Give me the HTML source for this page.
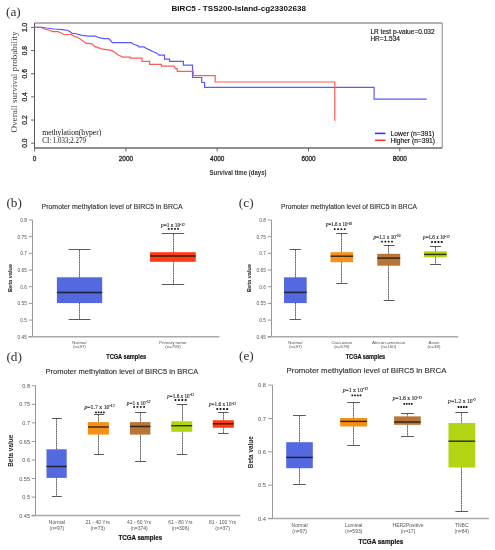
<!DOCTYPE html>
<html><head><meta charset="utf-8"><style>
html,body{margin:0;padding:0;background:#fff;}
#c{position:relative;width:495px;height:550px;overflow:hidden;background:#fff;}
svg{position:absolute;left:0;top:0;filter:blur(0.3px);}
</style></head><body><div id="c">
<svg width="495" height="550" viewBox="0 0 495 550">
<text x="6" y="16.2" font-family='"Liberation Serif", serif' font-size="13.3" fill="#333" text-anchor="start" font-weight="normal" style="" >(a)</text>
<text x="171.5" y="11.3" font-family='"Liberation Sans", sans-serif' font-size="7.8" fill="#111" text-anchor="start" font-weight="bold" textLength="134.5" lengthAdjust="spacingAndGlyphs" style="" >BIRC5 - TSS200-Island-cg23302638</text>
<line x1="34.5" y1="23" x2="442.2" y2="23" stroke="#9a9a9a" stroke-width="1.4" />
<line x1="442.2" y1="23" x2="442.2" y2="148" stroke="#9a9a9a" stroke-width="1.2" />
<line x1="34.5" y1="148" x2="442.2" y2="148" stroke="#6a6a6a" stroke-width="1.3" />
<line x1="34.5" y1="23" x2="34.5" y2="148" stroke="#555" stroke-width="1.0" />
<line x1="31" y1="143.2" x2="34.5" y2="143.2" stroke="#555" stroke-width="0.9" />
<text x="0" y="0" transform="translate(27.1,143.2) rotate(-90)" font-family='"Liberation Sans", sans-serif' font-size="6.7" font-weight="normal" fill="#2a2a2a" stroke="#2a2a2a" stroke-width="0.3" text-anchor="middle">0.0</text>
<line x1="31" y1="120.04999999999998" x2="34.5" y2="120.04999999999998" stroke="#555" stroke-width="0.9" />
<text x="0" y="0" transform="translate(27.1,120.04999999999998) rotate(-90)" font-family='"Liberation Sans", sans-serif' font-size="6.7" font-weight="normal" fill="#2a2a2a" stroke="#2a2a2a" stroke-width="0.3" text-anchor="middle">0.2</text>
<line x1="31" y1="96.89999999999999" x2="34.5" y2="96.89999999999999" stroke="#555" stroke-width="0.9" />
<text x="0" y="0" transform="translate(27.1,96.89999999999999) rotate(-90)" font-family='"Liberation Sans", sans-serif' font-size="6.7" font-weight="normal" fill="#2a2a2a" stroke="#2a2a2a" stroke-width="0.3" text-anchor="middle">0.4</text>
<line x1="31" y1="73.75" x2="34.5" y2="73.75" stroke="#555" stroke-width="0.9" />
<text x="0" y="0" transform="translate(27.1,73.75) rotate(-90)" font-family='"Liberation Sans", sans-serif' font-size="6.7" font-weight="normal" fill="#2a2a2a" stroke="#2a2a2a" stroke-width="0.3" text-anchor="middle">0.6</text>
<line x1="31" y1="50.599999999999994" x2="34.5" y2="50.599999999999994" stroke="#555" stroke-width="0.9" />
<text x="0" y="0" transform="translate(27.1,50.599999999999994) rotate(-90)" font-family='"Liberation Sans", sans-serif' font-size="6.7" font-weight="normal" fill="#2a2a2a" stroke="#2a2a2a" stroke-width="0.3" text-anchor="middle">0.8</text>
<line x1="31" y1="27.44999999999999" x2="34.5" y2="27.44999999999999" stroke="#555" stroke-width="0.9" />
<text x="0" y="0" transform="translate(27.1,27.44999999999999) rotate(-90)" font-family='"Liberation Sans", sans-serif' font-size="6.7" font-weight="normal" fill="#2a2a2a" stroke="#2a2a2a" stroke-width="0.3" text-anchor="middle">1.0</text>
<line x1="34.6" y1="148" x2="34.6" y2="151.4" stroke="#555" stroke-width="0.9" />
<text x="34.6" y="160.8" font-family='"Liberation Sans", sans-serif' font-size="6.4" fill="#2a2a2a" text-anchor="middle" font-weight="normal" style="" stroke="#2a2a2a" stroke-width="0.3">0</text>
<line x1="125.9" y1="148" x2="125.9" y2="151.4" stroke="#555" stroke-width="0.9" />
<text x="125.9" y="160.8" font-family='"Liberation Sans", sans-serif' font-size="6.4" fill="#2a2a2a" text-anchor="middle" font-weight="normal" style="" stroke="#2a2a2a" stroke-width="0.3">2000</text>
<line x1="217.2" y1="148" x2="217.2" y2="151.4" stroke="#555" stroke-width="0.9" />
<text x="217.2" y="160.8" font-family='"Liberation Sans", sans-serif' font-size="6.4" fill="#2a2a2a" text-anchor="middle" font-weight="normal" style="" stroke="#2a2a2a" stroke-width="0.3">4000</text>
<line x1="308.5" y1="148" x2="308.5" y2="151.4" stroke="#555" stroke-width="0.9" />
<text x="308.5" y="160.8" font-family='"Liberation Sans", sans-serif' font-size="6.4" fill="#2a2a2a" text-anchor="middle" font-weight="normal" style="" stroke="#2a2a2a" stroke-width="0.3">6000</text>
<line x1="399.8" y1="148" x2="399.8" y2="151.4" stroke="#555" stroke-width="0.9" />
<text x="399.8" y="160.8" font-family='"Liberation Sans", sans-serif' font-size="6.4" fill="#2a2a2a" text-anchor="middle" font-weight="normal" style="" stroke="#2a2a2a" stroke-width="0.3">8000</text>
<text x="238" y="174.5" font-family='"Liberation Sans", sans-serif' font-size="6.3" fill="#333" text-anchor="middle" font-weight="bold" textLength="57" lengthAdjust="spacingAndGlyphs" style="" >Survival time (days)</text>
<text x="0" y="0" transform="translate(16.9,82) rotate(-90)" font-family='"Liberation Serif", serif' font-size="9.2" fill="#444" text-anchor="middle" textLength="101" lengthAdjust="spacingAndGlyphs">Overall survival probability</text>
<text x="42.3" y="134.5" font-family='"Liberation Serif", serif' font-size="7.6" fill="#111" text-anchor="start" font-weight="normal" textLength="59" lengthAdjust="spacingAndGlyphs" style="" >methylation(hyper)</text>
<text x="42.3" y="142.6" font-family='"Liberation Serif", serif' font-size="7.6" fill="#111" text-anchor="start" font-weight="normal" textLength="43.6" lengthAdjust="spacingAndGlyphs" style="" >CI: 1.033;2.279</text>
<text x="370.4" y="34.4" font-family='"Liberation Sans", sans-serif' font-size="6.5" fill="#222" text-anchor="start" font-weight="normal" textLength="64.2" lengthAdjust="spacingAndGlyphs" style="" stroke="#222" stroke-width="0.18">LR test p-value=0.032</text>
<text x="370.4" y="40.8" font-family='"Liberation Sans", sans-serif' font-size="6.5" fill="#222" text-anchor="start" font-weight="normal" textLength="29.6" lengthAdjust="spacingAndGlyphs" style="" stroke="#222" stroke-width="0.18">HR=1.534</text>
<line x1="375" y1="133.4" x2="385.5" y2="133.4" stroke="#3333ff" stroke-width="1.6" />
<line x1="375" y1="140.3" x2="385.5" y2="140.3" stroke="#ff3333" stroke-width="1.6" />
<text x="390.5" y="136.0" font-family='"Liberation Sans", sans-serif' font-size="6.6" fill="#222" text-anchor="start" font-weight="normal" textLength="43.8" lengthAdjust="spacingAndGlyphs" style="" stroke="#222" stroke-width="0.18">Lower (n=391)</text>
<text x="390.5" y="142.9" font-family='"Liberation Sans", sans-serif' font-size="6.6" fill="#222" text-anchor="start" font-weight="normal" textLength="44.5" lengthAdjust="spacingAndGlyphs" style="" stroke="#222" stroke-width="0.18">Higher (n=391)</text>
<polyline points="34.5,27.4 42.1,27.4 46.1,28 54.2,29 62.3,29.7 68,30.5 70.4,32.1 72,33.3 74.8,33.5 82.1,35.3 88.2,36.2 95.5,36.2 99.1,37.7 103.9,38.7 108.8,38.7 110.5,40.5 112.4,42.6 131.1,42.7 133.9,44.3 137.9,45.7 138.7,46.9 144,46.9 147.2,48.9 150,50.1 153.3,51.7 157.3,53.4 158.9,55.2 164.5,55.2 164.5,59.2 169.6,59.2 169.6,61.3 183.4,61.3 183.4,65.2 192.5,65.2 192.5,77.5 201.7,77.5 201.7,82.5 204.6,82.5 204.6,87.4 374.1,87.4 374.1,99.1 426.8,99.1" fill="none" stroke="#5a5aff" stroke-width="1.2" stroke-linejoin="miter"/>
<polyline points="34.5,27.4 41.3,27.4 44.5,29 50.2,30.5 52.6,31.7 58.2,31.7 61.5,33.3 63.9,34.5 71.2,34.5 74,36.1 78.5,37.7 85.8,43.2 91.8,43.8 94.8,46.4 101.5,48.8 111.2,50.4 113.6,51.6 118.5,55.3 123.3,57.1 130.3,57.2 130.3,58.2 142,58.2 142,61.4 149.6,61.4 149.6,64.3 161.5,64.3 161.5,66.2 174.1,66.2 175.5,68.7 177.2,68.7 177.2,71.4 193.3,71.4 193.3,75.6 215.2,75.6 215.2,82.0 334.8,82.0 334.8,120.8" fill="none" stroke="#ff5a5a" stroke-width="1.2" stroke-linejoin="miter"/>
<text x="6.4" y="207.3" font-family='"Liberation Serif", serif' font-size="13.3" fill="#333" text-anchor="start" font-weight="normal" style="" >(b)</text>
<text x="41.5" y="209" font-family='"Liberation Sans", sans-serif' font-size="6.6" fill="#333" text-anchor="start" font-weight="normal" textLength="141.2" lengthAdjust="spacingAndGlyphs" style="" stroke="#333" stroke-width="0.12">Promoter methylation level of BIRC5 in BRCA</text>
<line x1="32.5" y1="220" x2="32.5" y2="336.8" stroke="#999" stroke-width="1.0" />
<line x1="28.5" y1="336.8" x2="219.4" y2="336.8" stroke="#aaa" stroke-width="1.5" />
<line x1="28.7" y1="220.0" x2="32.5" y2="220.0" stroke="#999" stroke-width="1.0" />
<text x="27.0" y="221.872" font-family='"Liberation Sans", sans-serif' font-size="5.2" fill="#555" text-anchor="end" font-weight="normal" textLength="6.72" lengthAdjust="spacingAndGlyphs" style="" >0.8</text>
<line x1="28.7" y1="236.68" x2="32.5" y2="236.68" stroke="#999" stroke-width="1.0" />
<text x="27.0" y="238.55200000000002" font-family='"Liberation Sans", sans-serif' font-size="5.2" fill="#555" text-anchor="end" font-weight="normal" textLength="9.41" lengthAdjust="spacingAndGlyphs" style="" >0.75</text>
<line x1="28.7" y1="253.36" x2="32.5" y2="253.36" stroke="#999" stroke-width="1.0" />
<text x="27.0" y="255.23200000000003" font-family='"Liberation Sans", sans-serif' font-size="5.2" fill="#555" text-anchor="end" font-weight="normal" textLength="6.72" lengthAdjust="spacingAndGlyphs" style="" >0.7</text>
<line x1="28.7" y1="270.04" x2="32.5" y2="270.04" stroke="#999" stroke-width="1.0" />
<text x="27.0" y="271.91200000000003" font-family='"Liberation Sans", sans-serif' font-size="5.2" fill="#555" text-anchor="end" font-weight="normal" textLength="9.41" lengthAdjust="spacingAndGlyphs" style="" >0.65</text>
<line x1="28.7" y1="286.72" x2="32.5" y2="286.72" stroke="#999" stroke-width="1.0" />
<text x="27.0" y="288.59200000000004" font-family='"Liberation Sans", sans-serif' font-size="5.2" fill="#555" text-anchor="end" font-weight="normal" textLength="6.72" lengthAdjust="spacingAndGlyphs" style="" >0.6</text>
<line x1="28.7" y1="303.4" x2="32.5" y2="303.4" stroke="#999" stroke-width="1.0" />
<text x="27.0" y="305.272" font-family='"Liberation Sans", sans-serif' font-size="5.2" fill="#555" text-anchor="end" font-weight="normal" textLength="9.41" lengthAdjust="spacingAndGlyphs" style="" >0.55</text>
<line x1="28.7" y1="320.08000000000004" x2="32.5" y2="320.08000000000004" stroke="#999" stroke-width="1.0" />
<text x="27.0" y="321.95200000000006" font-family='"Liberation Sans", sans-serif' font-size="5.2" fill="#555" text-anchor="end" font-weight="normal" textLength="6.72" lengthAdjust="spacingAndGlyphs" style="" >0.5</text>
<line x1="28.7" y1="336.76" x2="32.5" y2="336.76" stroke="#999" stroke-width="1.0" />
<text x="27.0" y="338.632" font-family='"Liberation Sans", sans-serif' font-size="5.2" fill="#555" text-anchor="end" font-weight="normal" textLength="9.41" lengthAdjust="spacingAndGlyphs" style="" >0.45</text>
<text x="0" y="0" transform="translate(11.516,278) rotate(-90)" font-family='"Liberation Sans", sans-serif' font-size="5.6" font-weight="bold" fill="#222" text-anchor="middle">Beta value</text>
<line x1="79.5" y1="250" x2="79.5" y2="278" stroke="#aaa" stroke-width="1.0" />
<line x1="79.5" y1="303" x2="79.5" y2="319" stroke="#aaa" stroke-width="1.0" />
<line x1="79.5" y1="250" x2="79.5" y2="278" stroke="#555" stroke-width="1.0" stroke-dasharray="1,1.4"/>
<line x1="79.5" y1="303" x2="79.5" y2="319" stroke="#555" stroke-width="1.0" stroke-dasharray="1,1.4"/>
<line x1="68.6" y1="249.5" x2="90.4" y2="249.5" stroke="#5a5a5a" stroke-width="1.0" />
<line x1="68.6" y1="319.5" x2="90.4" y2="319.5" stroke="#5a5a5a" stroke-width="1.0" />
<rect x="56.9" y="277.3" width="45.300000000000004" height="25.80000000000001" fill="#5468e0"/>
<line x1="56.9" y1="292.4" x2="102.2" y2="292.4" stroke="#111" stroke-width="1.45" stroke-opacity="0.82"/>
<line x1="173.5" y1="234" x2="173.5" y2="253" stroke="#aaa" stroke-width="1.0" />
<line x1="173.5" y1="261" x2="173.5" y2="284" stroke="#aaa" stroke-width="1.0" />
<line x1="173.5" y1="234" x2="173.5" y2="253" stroke="#555" stroke-width="1.0" stroke-dasharray="1,1.4"/>
<line x1="173.5" y1="261" x2="173.5" y2="284" stroke="#555" stroke-width="1.0" stroke-dasharray="1,1.4"/>
<line x1="161.8" y1="233.5" x2="184.2" y2="233.5" stroke="#5a5a5a" stroke-width="1.0" />
<line x1="161.8" y1="284.5" x2="184.2" y2="284.5" stroke="#5a5a5a" stroke-width="1.0" />
<rect x="150" y="252.2" width="45.80000000000001" height="9.600000000000023" fill="#ff3c14"/>
<line x1="150" y1="256" x2="195.8" y2="256" stroke="#111" stroke-width="1.45" stroke-opacity="0.82"/>
<text x="161.1" y="226.9" font-family='"Liberation Serif", serif' font-size="5.4" fill="#222" stroke="#222" stroke-width="0.12" textLength="23.8" lengthAdjust="spacingAndGlyphs"><tspan font-style="italic">p</tspan>=1 x 10<tspan font-size="68%" dy="-0.33em">-12</tspan></text>
<rect x="167.80" y="228.00" width="1.8" height="1.8" rx="0.5" fill="#1a1a1a"/>
<rect x="170.90" y="228.00" width="1.8" height="1.8" rx="0.5" fill="#1a1a1a"/>
<rect x="174.00" y="228.00" width="1.8" height="1.8" rx="0.5" fill="#1a1a1a"/>
<rect x="177.10" y="228.00" width="1.8" height="1.8" rx="0.5" fill="#1a1a1a"/>
<text x="79.4" y="344.184" font-family='"Liberation Sans", sans-serif' font-size="4.4" fill="#555" text-anchor="middle" font-weight="normal" style="" >Normal</text>
<text x="79.4" y="348.284" font-family='"Liberation Sans", sans-serif' font-size="4.4" fill="#555" text-anchor="middle" font-weight="normal" style="" >(n=97)</text>
<text x="173" y="344.184" font-family='"Liberation Sans", sans-serif' font-size="4.4" fill="#555" text-anchor="middle" font-weight="normal" style="" >Primary tumor</text>
<text x="173" y="348.284" font-family='"Liberation Sans", sans-serif' font-size="4.4" fill="#555" text-anchor="middle" font-weight="normal" style="" >(n=793)</text>
<text x="106.2" y="358.96799999999996" font-family='"Liberation Sans", sans-serif' font-size="6.3" fill="#111" text-anchor="start" font-weight="bold" textLength="39.999999999999986" lengthAdjust="spacingAndGlyphs" style="" stroke="#111" stroke-width="0.15">TCGA samples</text>
<text x="238.8" y="207.3" font-family='"Liberation Serif", serif' font-size="13.3" fill="#333" text-anchor="start" font-weight="normal" style="" >(c)</text>
<text x="281" y="209" font-family='"Liberation Sans", sans-serif' font-size="6.4" fill="#333" text-anchor="start" font-weight="normal" textLength="136" lengthAdjust="spacingAndGlyphs" style="" stroke="#333" stroke-width="0.12">Promoter methylation level of BIRC5 in BRCA</text>
<line x1="271.5" y1="220" x2="271.5" y2="336.7" stroke="#999" stroke-width="1.0" />
<line x1="267.5" y1="336.7" x2="458.2" y2="336.7" stroke="#aaa" stroke-width="1.5" />
<line x1="267.7" y1="220.0" x2="271.5" y2="220.0" stroke="#999" stroke-width="1.0" />
<text x="266.0" y="221.872" font-family='"Liberation Sans", sans-serif' font-size="5.2" fill="#555" text-anchor="end" font-weight="normal" textLength="6.72" lengthAdjust="spacingAndGlyphs" style="" >0.8</text>
<line x1="267.7" y1="236.68" x2="271.5" y2="236.68" stroke="#999" stroke-width="1.0" />
<text x="266.0" y="238.55200000000002" font-family='"Liberation Sans", sans-serif' font-size="5.2" fill="#555" text-anchor="end" font-weight="normal" textLength="9.41" lengthAdjust="spacingAndGlyphs" style="" >0.75</text>
<line x1="267.7" y1="253.36" x2="271.5" y2="253.36" stroke="#999" stroke-width="1.0" />
<text x="266.0" y="255.23200000000003" font-family='"Liberation Sans", sans-serif' font-size="5.2" fill="#555" text-anchor="end" font-weight="normal" textLength="6.72" lengthAdjust="spacingAndGlyphs" style="" >0.7</text>
<line x1="267.7" y1="270.04" x2="271.5" y2="270.04" stroke="#999" stroke-width="1.0" />
<text x="266.0" y="271.91200000000003" font-family='"Liberation Sans", sans-serif' font-size="5.2" fill="#555" text-anchor="end" font-weight="normal" textLength="9.41" lengthAdjust="spacingAndGlyphs" style="" >0.65</text>
<line x1="267.7" y1="286.72" x2="271.5" y2="286.72" stroke="#999" stroke-width="1.0" />
<text x="266.0" y="288.59200000000004" font-family='"Liberation Sans", sans-serif' font-size="5.2" fill="#555" text-anchor="end" font-weight="normal" textLength="6.72" lengthAdjust="spacingAndGlyphs" style="" >0.6</text>
<line x1="267.7" y1="303.4" x2="271.5" y2="303.4" stroke="#999" stroke-width="1.0" />
<text x="266.0" y="305.272" font-family='"Liberation Sans", sans-serif' font-size="5.2" fill="#555" text-anchor="end" font-weight="normal" textLength="9.41" lengthAdjust="spacingAndGlyphs" style="" >0.55</text>
<line x1="267.7" y1="320.08000000000004" x2="271.5" y2="320.08000000000004" stroke="#999" stroke-width="1.0" />
<text x="266.0" y="321.95200000000006" font-family='"Liberation Sans", sans-serif' font-size="5.2" fill="#555" text-anchor="end" font-weight="normal" textLength="6.72" lengthAdjust="spacingAndGlyphs" style="" >0.5</text>
<line x1="267.7" y1="336.76" x2="271.5" y2="336.76" stroke="#999" stroke-width="1.0" />
<text x="266.0" y="338.632" font-family='"Liberation Sans", sans-serif' font-size="5.2" fill="#555" text-anchor="end" font-weight="normal" textLength="9.41" lengthAdjust="spacingAndGlyphs" style="" >0.45</text>
<text x="0" y="0" transform="translate(251.016,278) rotate(-90)" font-family='"Liberation Sans", sans-serif' font-size="5.6" font-weight="bold" fill="#222" text-anchor="middle">Beta value</text>
<line x1="295.5" y1="250" x2="295.5" y2="278" stroke="#aaa" stroke-width="1.0" />
<line x1="295.5" y1="303" x2="295.5" y2="319" stroke="#aaa" stroke-width="1.0" />
<line x1="295.5" y1="250" x2="295.5" y2="278" stroke="#555" stroke-width="1.0" stroke-dasharray="1,1.4"/>
<line x1="295.5" y1="303" x2="295.5" y2="319" stroke="#555" stroke-width="1.0" stroke-dasharray="1,1.4"/>
<line x1="289.6" y1="249.5" x2="300.9" y2="249.5" stroke="#5a5a5a" stroke-width="1.0" />
<line x1="289.6" y1="319.5" x2="300.9" y2="319.5" stroke="#5a5a5a" stroke-width="1.0" />
<rect x="284" y="277.3" width="22.69999999999999" height="25.80000000000001" fill="#5468e0"/>
<line x1="284" y1="292.4" x2="306.7" y2="292.4" stroke="#111" stroke-width="1.45" stroke-opacity="0.82"/>
<line x1="341.5" y1="234" x2="341.5" y2="253" stroke="#aaa" stroke-width="1.0" />
<line x1="341.5" y1="262" x2="341.5" y2="283" stroke="#aaa" stroke-width="1.0" />
<line x1="341.5" y1="234" x2="341.5" y2="253" stroke="#555" stroke-width="1.0" stroke-dasharray="1,1.4"/>
<line x1="341.5" y1="262" x2="341.5" y2="283" stroke="#555" stroke-width="1.0" stroke-dasharray="1,1.4"/>
<line x1="336.2" y1="233.5" x2="347.5" y2="233.5" stroke="#5a5a5a" stroke-width="1.0" />
<line x1="336.2" y1="283.5" x2="347.5" y2="283.5" stroke="#5a5a5a" stroke-width="1.0" />
<rect x="330.5" y="252.2" width="22.600000000000023" height="10.0" fill="#f5911a"/>
<line x1="330.5" y1="256.2" x2="353.1" y2="256.2" stroke="#111" stroke-width="1.45" stroke-opacity="0.82"/>
<text x="325.9" y="226.4" font-family='"Liberation Serif", serif' font-size="5.4" fill="#222" stroke="#222" stroke-width="0.12" textLength="26.1" lengthAdjust="spacingAndGlyphs"><tspan font-style="italic">p</tspan>=1.6 x 10<tspan font-size="68%" dy="-0.33em">-10</tspan></text>
<rect x="333.80" y="228.20" width="1.8" height="1.8" rx="0.5" fill="#1a1a1a"/>
<rect x="337.13" y="228.20" width="1.8" height="1.8" rx="0.5" fill="#1a1a1a"/>
<rect x="340.47" y="228.20" width="1.8" height="1.8" rx="0.5" fill="#1a1a1a"/>
<rect x="343.80" y="228.20" width="1.8" height="1.8" rx="0.5" fill="#1a1a1a"/>
<line x1="388.5" y1="246" x2="388.5" y2="254" stroke="#aaa" stroke-width="1.0" />
<line x1="388.5" y1="265" x2="388.5" y2="300" stroke="#aaa" stroke-width="1.0" />
<line x1="388.5" y1="246" x2="388.5" y2="254" stroke="#555" stroke-width="1.0" stroke-dasharray="1,1.4"/>
<line x1="388.5" y1="265" x2="388.5" y2="300" stroke="#555" stroke-width="1.0" stroke-dasharray="1,1.4"/>
<line x1="383.7" y1="245.5" x2="394.6" y2="245.5" stroke="#5a5a5a" stroke-width="1.0" />
<line x1="383.7" y1="300.5" x2="394.6" y2="300.5" stroke="#5a5a5a" stroke-width="1.0" />
<rect x="377.3" y="253.8" width="22.899999999999977" height="11.899999999999977" fill="#b97538"/>
<line x1="377.3" y1="258.1" x2="400.2" y2="258.1" stroke="#111" stroke-width="1.45" stroke-opacity="0.82"/>
<text x="373.5" y="238.7" font-family='"Liberation Serif", serif' font-size="5.4" fill="#222" stroke="#222" stroke-width="0.12" textLength="27" lengthAdjust="spacingAndGlyphs"><tspan font-style="italic">p</tspan>=1.1 x 10<tspan font-size="68%" dy="-0.33em">-10</tspan></text>
<rect x="381.10" y="240.80" width="1.8" height="1.8" rx="0.5" fill="#1a1a1a"/>
<rect x="384.43" y="240.80" width="1.8" height="1.8" rx="0.5" fill="#1a1a1a"/>
<rect x="387.77" y="240.80" width="1.8" height="1.8" rx="0.5" fill="#1a1a1a"/>
<rect x="391.10" y="240.80" width="1.8" height="1.8" rx="0.5" fill="#1a1a1a"/>
<line x1="435.5" y1="247" x2="435.5" y2="252" stroke="#aaa" stroke-width="1.0" />
<line x1="435.5" y1="257" x2="435.5" y2="264" stroke="#aaa" stroke-width="1.0" />
<line x1="435.5" y1="247" x2="435.5" y2="252" stroke="#555" stroke-width="1.0" stroke-dasharray="1,1.4"/>
<line x1="435.5" y1="257" x2="435.5" y2="264" stroke="#555" stroke-width="1.0" stroke-dasharray="1,1.4"/>
<line x1="430.1" y1="246.5" x2="441.1" y2="246.5" stroke="#5a5a5a" stroke-width="1.0" />
<line x1="430.1" y1="264.5" x2="441.1" y2="264.5" stroke="#5a5a5a" stroke-width="1.0" />
<rect x="424.1" y="251.3" width="22.599999999999966" height="6.0" fill="#b1d512"/>
<line x1="424.1" y1="254.4" x2="446.7" y2="254.4" stroke="#111" stroke-width="1.45" stroke-opacity="0.82"/>
<text x="423.1" y="239.3" font-family='"Liberation Serif", serif' font-size="5.4" fill="#222" stroke="#222" stroke-width="0.12" textLength="26.6" lengthAdjust="spacingAndGlyphs"><tspan font-style="italic">p</tspan>=1.6 x 10<tspan font-size="68%" dy="-0.33em">-12</tspan></text>
<rect x="431.10" y="241.10" width="1.8" height="1.8" rx="0.5" fill="#1a1a1a"/>
<rect x="434.33" y="241.10" width="1.8" height="1.8" rx="0.5" fill="#1a1a1a"/>
<rect x="437.57" y="241.10" width="1.8" height="1.8" rx="0.5" fill="#1a1a1a"/>
<rect x="440.80" y="241.10" width="1.8" height="1.8" rx="0.5" fill="#1a1a1a"/>
<text x="295.4" y="344.184" font-family='"Liberation Sans", sans-serif' font-size="4.4" fill="#555" text-anchor="middle" font-weight="normal" style="" >Normal</text>
<text x="295.4" y="348.284" font-family='"Liberation Sans", sans-serif' font-size="4.4" fill="#555" text-anchor="middle" font-weight="normal" style="" >(n=97)</text>
<text x="341.8" y="344.184" font-family='"Liberation Sans", sans-serif' font-size="4.4" fill="#555" text-anchor="middle" font-weight="normal" style="" >Caucasian</text>
<text x="341.8" y="348.284" font-family='"Liberation Sans", sans-serif' font-size="4.4" fill="#555" text-anchor="middle" font-weight="normal" style="" >(n=578)</text>
<text x="388.6" y="344.184" font-family='"Liberation Sans", sans-serif' font-size="4.4" fill="#555" text-anchor="middle" font-weight="normal" style="" >African-american</text>
<text x="388.6" y="348.284" font-family='"Liberation Sans", sans-serif' font-size="4.4" fill="#555" text-anchor="middle" font-weight="normal" style="" >(n=160)</text>
<text x="434" y="344.184" font-family='"Liberation Sans", sans-serif' font-size="4.4" fill="#555" text-anchor="middle" font-weight="normal" style="" >Asian</text>
<text x="434" y="348.284" font-family='"Liberation Sans", sans-serif' font-size="4.4" fill="#555" text-anchor="middle" font-weight="normal" style="" >(n=38)</text>
<text x="345.7" y="358.96799999999996" font-family='"Liberation Sans", sans-serif' font-size="6.3" fill="#111" text-anchor="start" font-weight="bold" textLength="39.5" lengthAdjust="spacingAndGlyphs" style="" stroke="#111" stroke-width="0.15">TCGA samples</text>
<text x="6.4" y="360.7" font-family='"Liberation Serif", serif' font-size="13.3" fill="#333" text-anchor="start" font-weight="normal" style="" >(d)</text>
<text x="45.5" y="373.5" font-family='"Liberation Sans", sans-serif' font-size="7.5" fill="#333" text-anchor="start" font-weight="normal" textLength="152.7" lengthAdjust="spacingAndGlyphs" style="" stroke="#333" stroke-width="0.14">Promoter methylation level of BIRC5 in BRCA</text>
<line x1="35.5" y1="385.7" x2="35.5" y2="515.6" stroke="#999" stroke-width="1.0" />
<line x1="31.5" y1="515.6" x2="240.4" y2="515.6" stroke="#aaa" stroke-width="1.5" />
<line x1="31.7" y1="385.7" x2="35.5" y2="385.7" stroke="#999" stroke-width="1.0" />
<text x="30.0" y="387.86" font-family='"Liberation Sans", sans-serif' font-size="6.0" fill="#555" text-anchor="end" font-weight="normal" textLength="7.76" lengthAdjust="spacingAndGlyphs" style="" >0.8</text>
<line x1="31.7" y1="404.27" x2="35.5" y2="404.27" stroke="#999" stroke-width="1.0" />
<text x="30.0" y="406.43" font-family='"Liberation Sans", sans-serif' font-size="6.0" fill="#555" text-anchor="end" font-weight="normal" textLength="10.86" lengthAdjust="spacingAndGlyphs" style="" >0.75</text>
<line x1="31.7" y1="422.84000000000003" x2="35.5" y2="422.84000000000003" stroke="#999" stroke-width="1.0" />
<text x="30.0" y="425.00000000000006" font-family='"Liberation Sans", sans-serif' font-size="6.0" fill="#555" text-anchor="end" font-weight="normal" textLength="7.76" lengthAdjust="spacingAndGlyphs" style="" >0.7</text>
<line x1="31.7" y1="441.40999999999997" x2="35.5" y2="441.40999999999997" stroke="#999" stroke-width="1.0" />
<text x="30.0" y="443.57" font-family='"Liberation Sans", sans-serif' font-size="6.0" fill="#555" text-anchor="end" font-weight="normal" textLength="10.86" lengthAdjust="spacingAndGlyphs" style="" >0.65</text>
<line x1="31.7" y1="459.98" x2="35.5" y2="459.98" stroke="#999" stroke-width="1.0" />
<text x="30.0" y="462.14000000000004" font-family='"Liberation Sans", sans-serif' font-size="6.0" fill="#555" text-anchor="end" font-weight="normal" textLength="7.76" lengthAdjust="spacingAndGlyphs" style="" >0.6</text>
<line x1="31.7" y1="478.54999999999995" x2="35.5" y2="478.54999999999995" stroke="#999" stroke-width="1.0" />
<text x="30.0" y="480.71" font-family='"Liberation Sans", sans-serif' font-size="6.0" fill="#555" text-anchor="end" font-weight="normal" textLength="10.86" lengthAdjust="spacingAndGlyphs" style="" >0.55</text>
<line x1="31.7" y1="497.12" x2="35.5" y2="497.12" stroke="#999" stroke-width="1.0" />
<text x="30.0" y="499.28000000000003" font-family='"Liberation Sans", sans-serif' font-size="6.0" fill="#555" text-anchor="end" font-weight="normal" textLength="7.76" lengthAdjust="spacingAndGlyphs" style="" >0.5</text>
<line x1="31.7" y1="515.69" x2="35.5" y2="515.69" stroke="#999" stroke-width="1.0" />
<text x="30.0" y="517.85" font-family='"Liberation Sans", sans-serif' font-size="6.0" fill="#555" text-anchor="end" font-weight="normal" textLength="10.86" lengthAdjust="spacingAndGlyphs" style="" >0.45</text>
<text x="0" y="0" transform="translate(13.004,450.8) rotate(-90)" font-family='"Liberation Sans", sans-serif' font-size="6.4" font-weight="bold" fill="#222" text-anchor="middle">Beta value</text>
<line x1="56.5" y1="419" x2="56.5" y2="450" stroke="#aaa" stroke-width="1.0" />
<line x1="56.5" y1="477" x2="56.5" y2="496" stroke="#aaa" stroke-width="1.0" />
<line x1="56.5" y1="419" x2="56.5" y2="450" stroke="#555" stroke-width="1.0" stroke-dasharray="1,1.4"/>
<line x1="56.5" y1="477" x2="56.5" y2="496" stroke="#555" stroke-width="1.0" stroke-dasharray="1,1.4"/>
<line x1="51.8" y1="418.5" x2="61.8" y2="418.5" stroke="#5a5a5a" stroke-width="1.0" />
<line x1="51.8" y1="496.5" x2="61.8" y2="496.5" stroke="#5a5a5a" stroke-width="1.0" />
<rect x="46.5" y="449.3" width="20.200000000000003" height="28.599999999999966" fill="#5468e0"/>
<line x1="46.5" y1="466.5" x2="66.7" y2="466.5" stroke="#111" stroke-width="1.45" stroke-opacity="0.82"/>
<line x1="98.5" y1="415" x2="98.5" y2="423" stroke="#aaa" stroke-width="1.0" />
<line x1="98.5" y1="434" x2="98.5" y2="454" stroke="#aaa" stroke-width="1.0" />
<line x1="98.5" y1="415" x2="98.5" y2="423" stroke="#555" stroke-width="1.0" stroke-dasharray="1,1.4"/>
<line x1="98.5" y1="434" x2="98.5" y2="454" stroke="#555" stroke-width="1.0" stroke-dasharray="1,1.4"/>
<line x1="94.1" y1="414.5" x2="104.1" y2="414.5" stroke="#5a5a5a" stroke-width="1.0" />
<line x1="94.1" y1="454.5" x2="104.1" y2="454.5" stroke="#5a5a5a" stroke-width="1.0" />
<rect x="87.9" y="422.1" width="21.0" height="12.5" fill="#f5911a"/>
<line x1="87.9" y1="427" x2="108.9" y2="427" stroke="#111" stroke-width="1.45" stroke-opacity="0.82"/>
<text x="84.4" y="408.5" font-family='"Liberation Serif", serif' font-size="6.0" fill="#222" stroke="#222" stroke-width="0.12" textLength="30.3" lengthAdjust="spacingAndGlyphs"><tspan font-style="italic">p</tspan>=1.7 x 10<tspan font-size="68%" dy="-0.33em">-12</tspan></text>
<rect x="95.05" y="411.40" width="1.8" height="1.8" rx="0.5" fill="#1a1a1a"/>
<rect x="97.68" y="411.40" width="1.8" height="1.8" rx="0.5" fill="#1a1a1a"/>
<rect x="100.32" y="411.40" width="1.8" height="1.8" rx="0.5" fill="#1a1a1a"/>
<rect x="102.95" y="411.40" width="1.8" height="1.8" rx="0.5" fill="#1a1a1a"/>
<line x1="140.5" y1="413" x2="140.5" y2="423" stroke="#aaa" stroke-width="1.0" />
<line x1="140.5" y1="434" x2="140.5" y2="461" stroke="#aaa" stroke-width="1.0" />
<line x1="140.5" y1="413" x2="140.5" y2="423" stroke="#555" stroke-width="1.0" stroke-dasharray="1,1.4"/>
<line x1="140.5" y1="434" x2="140.5" y2="461" stroke="#555" stroke-width="1.0" stroke-dasharray="1,1.4"/>
<line x1="135.1" y1="412.5" x2="146.1" y2="412.5" stroke="#5a5a5a" stroke-width="1.0" />
<line x1="135.1" y1="461.5" x2="146.1" y2="461.5" stroke="#5a5a5a" stroke-width="1.0" />
<rect x="129.9" y="422.1" width="20.5" height="12.5" fill="#b97538"/>
<line x1="129.9" y1="426.5" x2="150.4" y2="426.5" stroke="#111" stroke-width="1.45" stroke-opacity="0.82"/>
<text x="126.8" y="404.5" font-family='"Liberation Serif", serif' font-size="6.0" fill="#222" stroke="#222" stroke-width="0.12" textLength="23.7" lengthAdjust="spacingAndGlyphs"><tspan font-style="italic">p</tspan>=1 x 10<tspan font-size="68%" dy="-0.33em">-12</tspan></text>
<rect x="133.20" y="406.00" width="1.8" height="1.8" rx="0.5" fill="#1a1a1a"/>
<rect x="136.53" y="406.00" width="1.8" height="1.8" rx="0.5" fill="#1a1a1a"/>
<rect x="139.87" y="406.00" width="1.8" height="1.8" rx="0.5" fill="#1a1a1a"/>
<rect x="143.20" y="406.00" width="1.8" height="1.8" rx="0.5" fill="#1a1a1a"/>
<line x1="182.5" y1="405" x2="182.5" y2="422" stroke="#aaa" stroke-width="1.0" />
<line x1="182.5" y1="431" x2="182.5" y2="454" stroke="#aaa" stroke-width="1.0" />
<line x1="182.5" y1="405" x2="182.5" y2="422" stroke="#555" stroke-width="1.0" stroke-dasharray="1,1.4"/>
<line x1="182.5" y1="431" x2="182.5" y2="454" stroke="#555" stroke-width="1.0" stroke-dasharray="1,1.4"/>
<line x1="176.8" y1="404.5" x2="187.3" y2="404.5" stroke="#5a5a5a" stroke-width="1.0" />
<line x1="176.8" y1="454.5" x2="187.3" y2="454.5" stroke="#5a5a5a" stroke-width="1.0" />
<rect x="171.2" y="421.3" width="21.0" height="10.5" fill="#b1d512"/>
<line x1="171.2" y1="425.7" x2="192.2" y2="425.7" stroke="#111" stroke-width="1.45" stroke-opacity="0.82"/>
<text x="167.2" y="397.6" font-family='"Liberation Serif", serif' font-size="6.0" fill="#222" stroke="#222" stroke-width="0.12" textLength="27.2" lengthAdjust="spacingAndGlyphs"><tspan font-style="italic">p</tspan>=1.6 x 10<tspan font-size="68%" dy="-0.33em">-12</tspan></text>
<rect x="174.60" y="399.10" width="1.8" height="1.8" rx="0.5" fill="#1a1a1a"/>
<rect x="178.00" y="399.10" width="1.8" height="1.8" rx="0.5" fill="#1a1a1a"/>
<rect x="181.40" y="399.10" width="1.8" height="1.8" rx="0.5" fill="#1a1a1a"/>
<rect x="184.80" y="399.10" width="1.8" height="1.8" rx="0.5" fill="#1a1a1a"/>
<line x1="223.5" y1="413" x2="223.5" y2="421" stroke="#aaa" stroke-width="1.0" />
<line x1="223.5" y1="427" x2="223.5" y2="433" stroke="#aaa" stroke-width="1.0" />
<line x1="223.5" y1="413" x2="223.5" y2="421" stroke="#555" stroke-width="1.0" stroke-dasharray="1,1.4"/>
<line x1="223.5" y1="427" x2="223.5" y2="433" stroke="#555" stroke-width="1.0" stroke-dasharray="1,1.4"/>
<line x1="218" y1="412.5" x2="228.5" y2="412.5" stroke="#5a5a5a" stroke-width="1.0" />
<line x1="218" y1="433.5" x2="228.5" y2="433.5" stroke="#5a5a5a" stroke-width="1.0" />
<rect x="212.8" y="420.2" width="21.0" height="7.600000000000023" fill="#ff3c14"/>
<line x1="212.8" y1="423.8" x2="233.8" y2="423.8" stroke="#111" stroke-width="1.45" stroke-opacity="0.82"/>
<text x="208.9" y="406.4" font-family='"Liberation Serif", serif' font-size="6.0" fill="#222" stroke="#222" stroke-width="0.12" textLength="27.5" lengthAdjust="spacingAndGlyphs"><tspan font-style="italic">p</tspan>=1.6 x 10<tspan font-size="68%" dy="-0.33em">-12</tspan></text>
<rect x="216.35" y="408.10" width="1.8" height="1.8" rx="0.5" fill="#1a1a1a"/>
<rect x="219.65" y="408.10" width="1.8" height="1.8" rx="0.5" fill="#1a1a1a"/>
<rect x="222.95" y="408.10" width="1.8" height="1.8" rx="0.5" fill="#1a1a1a"/>
<rect x="226.25" y="408.10" width="1.8" height="1.8" rx="0.5" fill="#1a1a1a"/>
<text x="56.9" y="524.0999999999999" font-family='"Liberation Sans", sans-serif' font-size="5.0" fill="#555" text-anchor="middle" font-weight="normal" style="" >Normal</text>
<text x="56.9" y="529.5" font-family='"Liberation Sans", sans-serif' font-size="5.0" fill="#555" text-anchor="middle" font-weight="normal" style="" >(n=97)</text>
<text x="97.7" y="524.0999999999999" font-family='"Liberation Sans", sans-serif' font-size="5.0" fill="#555" text-anchor="middle" font-weight="normal" style="" >21 - 40 Yrs</text>
<text x="97.7" y="529.5" font-family='"Liberation Sans", sans-serif' font-size="5.0" fill="#555" text-anchor="middle" font-weight="normal" style="" >(n=73)</text>
<text x="139.1" y="524.0999999999999" font-family='"Liberation Sans", sans-serif' font-size="5.0" fill="#555" text-anchor="middle" font-weight="normal" style="" >41 - 60 Yrs</text>
<text x="139.1" y="529.5" font-family='"Liberation Sans", sans-serif' font-size="5.0" fill="#555" text-anchor="middle" font-weight="normal" style="" >(n=374)</text>
<text x="180.4" y="524.0999999999999" font-family='"Liberation Sans", sans-serif' font-size="5.0" fill="#555" text-anchor="middle" font-weight="normal" style="" >61 - 80 Yrs</text>
<text x="180.4" y="529.5" font-family='"Liberation Sans", sans-serif' font-size="5.0" fill="#555" text-anchor="middle" font-weight="normal" style="" >(n=306)</text>
<text x="222.5" y="524.0999999999999" font-family='"Liberation Sans", sans-serif' font-size="5.0" fill="#555" text-anchor="middle" font-weight="normal" style="" >81 - 100 Yrs</text>
<text x="222.5" y="529.5" font-family='"Liberation Sans", sans-serif' font-size="5.0" fill="#555" text-anchor="middle" font-weight="normal" style="" >(n=37)</text>
<text x="118.4" y="540.2479999999999" font-family='"Liberation Sans", sans-serif' font-size="6.8" fill="#111" text-anchor="start" font-weight="bold" textLength="43.79999999999998" lengthAdjust="spacingAndGlyphs" style="" stroke="#111" stroke-width="0.15">TCGA samples</text>
<text x="239" y="360.3" font-family='"Liberation Serif", serif' font-size="13.3" fill="#333" text-anchor="start" font-weight="normal" style="" >(e)</text>
<text x="286.5" y="373.2" font-family='"Liberation Sans", sans-serif' font-size="7.7" fill="#333" text-anchor="start" font-weight="normal" textLength="160" lengthAdjust="spacingAndGlyphs" style="" stroke="#333" stroke-width="0.14">Promoter methylation level of BIRC5 in BRCA</text>
<line x1="272.5" y1="385.1" x2="272.5" y2="518.6" stroke="#999" stroke-width="1.0" />
<line x1="268.5" y1="518.6" x2="488.9" y2="518.6" stroke="#aaa" stroke-width="1.5" />
<line x1="268.1" y1="385.1" x2="272.5" y2="385.1" stroke="#999" stroke-width="1.0" />
<text x="266.0" y="387.33200000000005" font-family='"Liberation Sans", sans-serif' font-size="6.2" fill="#555" text-anchor="end" font-weight="normal" textLength="8.01" lengthAdjust="spacingAndGlyphs" style="" >0.8</text>
<line x1="268.1" y1="418.47" x2="272.5" y2="418.47" stroke="#999" stroke-width="1.0" />
<text x="266.0" y="420.70200000000006" font-family='"Liberation Sans", sans-serif' font-size="6.2" fill="#555" text-anchor="end" font-weight="normal" textLength="8.01" lengthAdjust="spacingAndGlyphs" style="" >0.7</text>
<line x1="268.1" y1="451.84000000000003" x2="272.5" y2="451.84000000000003" stroke="#999" stroke-width="1.0" />
<text x="266.0" y="454.07200000000006" font-family='"Liberation Sans", sans-serif' font-size="6.2" fill="#555" text-anchor="end" font-weight="normal" textLength="8.01" lengthAdjust="spacingAndGlyphs" style="" >0.6</text>
<line x1="268.1" y1="485.21000000000004" x2="272.5" y2="485.21000000000004" stroke="#999" stroke-width="1.0" />
<text x="266.0" y="487.44200000000006" font-family='"Liberation Sans", sans-serif' font-size="6.2" fill="#555" text-anchor="end" font-weight="normal" textLength="8.01" lengthAdjust="spacingAndGlyphs" style="" >0.5</text>
<line x1="268.1" y1="518.58" x2="272.5" y2="518.58" stroke="#999" stroke-width="1.0" />
<text x="266.0" y="520.812" font-family='"Liberation Sans", sans-serif' font-size="6.2" fill="#555" text-anchor="end" font-weight="normal" textLength="8.01" lengthAdjust="spacingAndGlyphs" style="" >0.4</text>
<text x="0" y="0" transform="translate(252.704,452.2) rotate(-90)" font-family='"Liberation Sans", sans-serif' font-size="6.4" font-weight="bold" fill="#222" text-anchor="middle">Beta value</text>
<line x1="299.5" y1="416" x2="299.5" y2="443" stroke="#aaa" stroke-width="1.0" />
<line x1="299.5" y1="468" x2="299.5" y2="484" stroke="#aaa" stroke-width="1.0" />
<line x1="299.5" y1="416" x2="299.5" y2="443" stroke="#555" stroke-width="1.0" stroke-dasharray="1,1.4"/>
<line x1="299.5" y1="468" x2="299.5" y2="484" stroke="#555" stroke-width="1.0" stroke-dasharray="1,1.4"/>
<line x1="293" y1="415.5" x2="305.8" y2="415.5" stroke="#5a5a5a" stroke-width="1.0" />
<line x1="293" y1="484.5" x2="305.8" y2="484.5" stroke="#5a5a5a" stroke-width="1.0" />
<rect x="286.2" y="442.2" width="26.600000000000023" height="26.0" fill="#5468e0"/>
<line x1="286.2" y1="457.4" x2="312.8" y2="457.4" stroke="#111" stroke-width="1.45" stroke-opacity="0.82"/>
<line x1="353.5" y1="403" x2="353.5" y2="418" stroke="#aaa" stroke-width="1.0" />
<line x1="353.5" y1="426" x2="353.5" y2="445" stroke="#aaa" stroke-width="1.0" />
<line x1="353.5" y1="403" x2="353.5" y2="418" stroke="#555" stroke-width="1.0" stroke-dasharray="1,1.4"/>
<line x1="353.5" y1="426" x2="353.5" y2="445" stroke="#555" stroke-width="1.0" stroke-dasharray="1,1.4"/>
<line x1="347.3" y1="402.5" x2="360" y2="402.5" stroke="#5a5a5a" stroke-width="1.0" />
<line x1="347.3" y1="445.5" x2="360" y2="445.5" stroke="#5a5a5a" stroke-width="1.0" />
<rect x="340.2" y="418" width="26.900000000000034" height="8.5" fill="#f5911a"/>
<line x1="340.2" y1="421.4" x2="367.1" y2="421.4" stroke="#111" stroke-width="1.45" stroke-opacity="0.82"/>
<text x="342.7" y="391.6" font-family='"Liberation Serif", serif' font-size="6.0" fill="#222" stroke="#222" stroke-width="0.12" textLength="25.5" lengthAdjust="spacingAndGlyphs"><tspan font-style="italic">p</tspan>=1 x 10<tspan font-size="68%" dy="-0.33em">-12</tspan></text>
<rect x="351.45" y="394.40" width="1.8" height="1.8" rx="0.5" fill="#1a1a1a"/>
<rect x="354.15" y="394.40" width="1.8" height="1.8" rx="0.5" fill="#1a1a1a"/>
<rect x="356.85" y="394.40" width="1.8" height="1.8" rx="0.5" fill="#1a1a1a"/>
<rect x="359.55" y="394.40" width="1.8" height="1.8" rx="0.5" fill="#1a1a1a"/>
<line x1="407.5" y1="414" x2="407.5" y2="417" stroke="#aaa" stroke-width="1.0" />
<line x1="407.5" y1="424" x2="407.5" y2="436" stroke="#aaa" stroke-width="1.0" />
<line x1="407.5" y1="414" x2="407.5" y2="417" stroke="#555" stroke-width="1.0" stroke-dasharray="1,1.4"/>
<line x1="407.5" y1="424" x2="407.5" y2="436" stroke="#555" stroke-width="1.0" stroke-dasharray="1,1.4"/>
<line x1="401" y1="413.5" x2="414" y2="413.5" stroke="#5a5a5a" stroke-width="1.0" />
<line x1="401" y1="436.5" x2="414" y2="436.5" stroke="#5a5a5a" stroke-width="1.0" />
<rect x="394.1" y="416.4" width="26.599999999999966" height="8.400000000000034" fill="#b97538"/>
<line x1="394.1" y1="422" x2="420.7" y2="422" stroke="#111" stroke-width="1.45" stroke-opacity="0.82"/>
<text x="392.7" y="400.2" font-family='"Liberation Serif", serif' font-size="6.0" fill="#222" stroke="#222" stroke-width="0.12" textLength="29.6" lengthAdjust="spacingAndGlyphs"><tspan font-style="italic">p</tspan>=1.6 x 10<tspan font-size="68%" dy="-0.33em">-12</tspan></text>
<rect x="403.30" y="403.00" width="1.8" height="1.8" rx="0.5" fill="#1a1a1a"/>
<rect x="405.83" y="403.00" width="1.8" height="1.8" rx="0.5" fill="#1a1a1a"/>
<rect x="408.37" y="403.00" width="1.8" height="1.8" rx="0.5" fill="#1a1a1a"/>
<rect x="410.90" y="403.00" width="1.8" height="1.8" rx="0.5" fill="#1a1a1a"/>
<line x1="461.5" y1="413" x2="461.5" y2="423" stroke="#aaa" stroke-width="1.0" />
<line x1="461.5" y1="467" x2="461.5" y2="511" stroke="#aaa" stroke-width="1.0" />
<line x1="461.5" y1="413" x2="461.5" y2="423" stroke="#555" stroke-width="1.0" stroke-dasharray="1,1.4"/>
<line x1="461.5" y1="467" x2="461.5" y2="511" stroke="#555" stroke-width="1.0" stroke-dasharray="1,1.4"/>
<line x1="455.4" y1="412.5" x2="468.1" y2="412.5" stroke="#5a5a5a" stroke-width="1.0" />
<line x1="455.4" y1="511.5" x2="468.1" y2="511.5" stroke="#5a5a5a" stroke-width="1.0" />
<rect x="448.5" y="423" width="26.69999999999999" height="44.5" fill="#b1d512"/>
<line x1="448.5" y1="441.2" x2="475.2" y2="441.2" stroke="#111" stroke-width="1.45" stroke-opacity="0.82"/>
<text x="448.1" y="402.6" font-family='"Liberation Serif", serif' font-size="6.0" fill="#222" stroke="#222" stroke-width="0.12" textLength="27.8" lengthAdjust="spacingAndGlyphs"><tspan font-style="italic">p</tspan>=1.2 x 10<tspan font-size="68%" dy="-0.33em">-2</tspan></text>
<rect x="457.65" y="406.10" width="1.8" height="1.8" rx="0.5" fill="#1a1a1a"/>
<rect x="460.28" y="406.10" width="1.8" height="1.8" rx="0.5" fill="#1a1a1a"/>
<rect x="462.92" y="406.10" width="1.8" height="1.8" rx="0.5" fill="#1a1a1a"/>
<rect x="465.55" y="406.10" width="1.8" height="1.8" rx="0.5" fill="#1a1a1a"/>
<text x="299.6" y="526.9" font-family='"Liberation Sans", sans-serif' font-size="5.0" fill="#555" text-anchor="middle" font-weight="normal" style="" >Normal</text>
<text x="299.6" y="532.5" font-family='"Liberation Sans", sans-serif' font-size="5.0" fill="#555" text-anchor="middle" font-weight="normal" style="" >(n=97)</text>
<text x="353.7" y="526.9" font-family='"Liberation Sans", sans-serif' font-size="5.0" fill="#555" text-anchor="middle" font-weight="normal" style="" >Luminal</text>
<text x="353.7" y="532.5" font-family='"Liberation Sans", sans-serif' font-size="5.0" fill="#555" text-anchor="middle" font-weight="normal" style="" >(n=593)</text>
<text x="408" y="526.9" font-family='"Liberation Sans", sans-serif' font-size="5.0" fill="#555" text-anchor="middle" font-weight="normal" style="" >HER2Positive</text>
<text x="408" y="532.5" font-family='"Liberation Sans", sans-serif' font-size="5.0" fill="#555" text-anchor="middle" font-weight="normal" style="" >(n=17)</text>
<text x="461.7" y="526.9" font-family='"Liberation Sans", sans-serif' font-size="5.0" fill="#555" text-anchor="middle" font-weight="normal" style="" >TNBC</text>
<text x="461.7" y="532.5" font-family='"Liberation Sans", sans-serif' font-size="5.0" fill="#555" text-anchor="middle" font-weight="normal" style="" >(n=84)</text>
<text x="358.4" y="543.648" font-family='"Liberation Sans", sans-serif' font-size="6.8" fill="#111" text-anchor="start" font-weight="bold" textLength="44.80000000000001" lengthAdjust="spacingAndGlyphs" style="" stroke="#111" stroke-width="0.15">TCGA samples</text>
</svg></div></body></html>
